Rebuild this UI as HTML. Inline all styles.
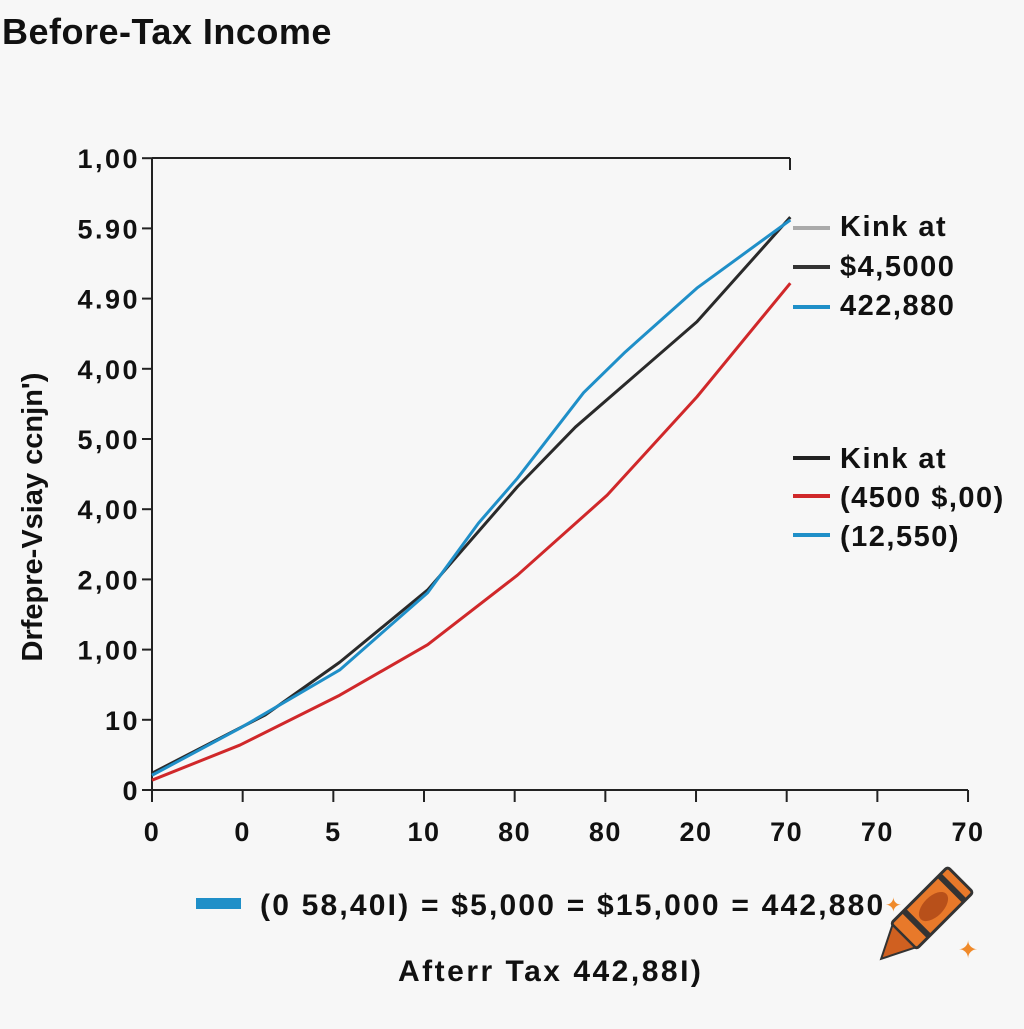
<!DOCTYPE html>
<html><head><meta charset="utf-8"><style>
body{margin:0;width:1024px;height:1024px;background:#f7f7f7;overflow:hidden;font-family:"Liberation Sans",sans-serif}
svg text{font-family:"Liberation Sans",sans-serif}
</style></head><body>
<svg width="1024" height="1024">
<text x="2" y="44" font-size="36" font-weight="bold" fill="#111" letter-spacing="0.5">Before-Tax Income</text>
<g id="axes"></g>
<g id="series"></g>
<text transform="translate(42,517) rotate(-90)" text-anchor="middle" font-size="29" font-weight="bold" fill="#111">Drfepre-Vsiay ccnjn')</text>
<g font-size="29" font-weight="bold" fill="#111" letter-spacing="1.5">
<line x1="793" y1="228" x2="830" y2="228" stroke="#aaa" stroke-width="4"/><text x="840" y="236">Kink at</text>
<line x1="793" y1="267" x2="830" y2="267" stroke="#333" stroke-width="4"/><text x="840" y="276">$4,5000</text>
<line x1="793" y1="307" x2="830" y2="307" stroke="#1f8fc8" stroke-width="4"/><text x="840" y="315">422,880</text>
</g>
<g font-size="29" font-weight="bold" fill="#111" letter-spacing="1.5">
<line x1="793" y1="458" x2="830" y2="458" stroke="#222" stroke-width="4"/><text x="840" y="468">Kink at</text>
<line x1="793" y1="496" x2="830" y2="496" stroke="#d0282a" stroke-width="4"/><text x="840" y="507">(4500 $,00)</text>
<line x1="793" y1="535" x2="830" y2="535" stroke="#1f8fc8" stroke-width="4"/><text x="840" y="546">(12,550)</text>
</g>
<g>
<rect x="196" y="898" width="45" height="11" fill="#1f8fc8"/>
<text x="260" y="915" font-size="30" font-weight="bold" fill="#111" letter-spacing="2.2">(0 58,40I) = $5,000 = $15,000 = 442,880</text>
</g>
<text x="398" y="981" font-size="30" font-weight="bold" fill="#111" letter-spacing="2.5">Afterr Tax 442,88I)</text>
<g>
<g transform="translate(925,915) rotate(-45)">
<rect x="-30" y="-18" width="80" height="36" fill="#e8792a" stroke="#333" stroke-width="3" rx="3"/>
<rect x="-15" y="-18" width="6" height="36" fill="#333"/><rect x="35" y="-18" width="6" height="36" fill="#333"/>
<ellipse cx="12" cy="0" rx="18" ry="10" fill="#b8501a"/>
<polygon points="-30,-16 -62,0 -30,16" fill="#d06020" stroke="#333" stroke-width="2"/>
</g>
<text x="885" y="912" font-size="20" fill="#f08a2a">✦</text>
<text x="958" y="958" font-size="24" fill="#f08a2a">✦</text>
</g>
</svg>
<script>
const yTickLabels=["0","10","1,00","2,00","4,00","5,00","4,00","4.90","5.90","1,00"];
const xTickLabels=["0","0","5","10","80","80","20","70","70","70"];
const blackX=[0,1.25,2.07,3.04,4.03,4.67,6.01,7.04];
const blackY=[0.24,1.07,1.82,2.85,4.32,5.17,6.67,8.16];
const blueX=[0,0.97,2.07,3.04,3.6,4.03,4.76,5.22,6.01,7.04];
const blueY=[0.21,0.88,1.71,2.81,3.8,4.44,5.66,6.24,7.15,8.12];
const redX=[0,0.97,2.07,3.04,4.03,5.02,6.01,7.04];
const redY=[0.14,0.64,1.35,2.07,3.06,4.2,5.6,7.22];
const NS="http://www.w3.org/2000/svg";
const X=v=>152+v*90.67, Y=v=>790-v*70.2;
const axes=document.getElementById('axes'), ser=document.getElementById('series');
function mk(tag,attrs,parent){const e=document.createElementNS(NS,tag);for(const k in attrs)e.setAttribute(k,attrs[k]);parent.appendChild(e);return e;}
let l=mk('line',{x1:152,y1:158,x2:152,y2:790,stroke:'#222','stroke-width':2},axes);


l=mk('line',{x1:152,y1:790,x2:968,y2:790,stroke:'#222','stroke-width':2},axes);


l=mk('line',{x1:152,y1:158,x2:790,y2:158,stroke:'#222','stroke-width':2},axes);


l=mk('line',{x1:790,y1:158,x2:790,y2:170,stroke:'#222','stroke-width':2},axes);


yTickLabels.forEach((t,i)=>{
  const tk=mk('line',{x1:142,y1:Y(i),x2:152,y2:Y(i),stroke:'#222','stroke-width':2},axes);
  
  
  const tx=mk('text',{x:140,y:Y(i)+10,'text-anchor':'end','font-size':27,'font-weight':'bold',fill:'#111','letter-spacing':2.5},axes);
  tx.textContent=t;
  
  
});
xTickLabels.forEach((t,i)=>{
  const tk=mk('line',{x1:X(i),y1:790,x2:X(i),y2:802,stroke:'#222','stroke-width':2},axes);
  
  
  const tx=mk('text',{x:X(i),y:841,'text-anchor':'middle','font-size':27,'font-weight':'bold',fill:'#111','letter-spacing':1.5},axes);
  tx.textContent=t;
  
  
});
function line(xs,ys,color,name){
  const p=mk('polyline',{points:xs.map((x,i)=>X(x)+','+Y(ys[i])).join(' '),fill:'none',stroke:color,'stroke-width':3,'stroke-linejoin':'round'},ser);
  
  
}
line(redX,redY,'#d0282a','red-series');
line(blackX,blackY,'#2a2a2a','black-series');
line(blueX,blueY,'#1f8fc8','blue-series');
</script>
</body></html>
